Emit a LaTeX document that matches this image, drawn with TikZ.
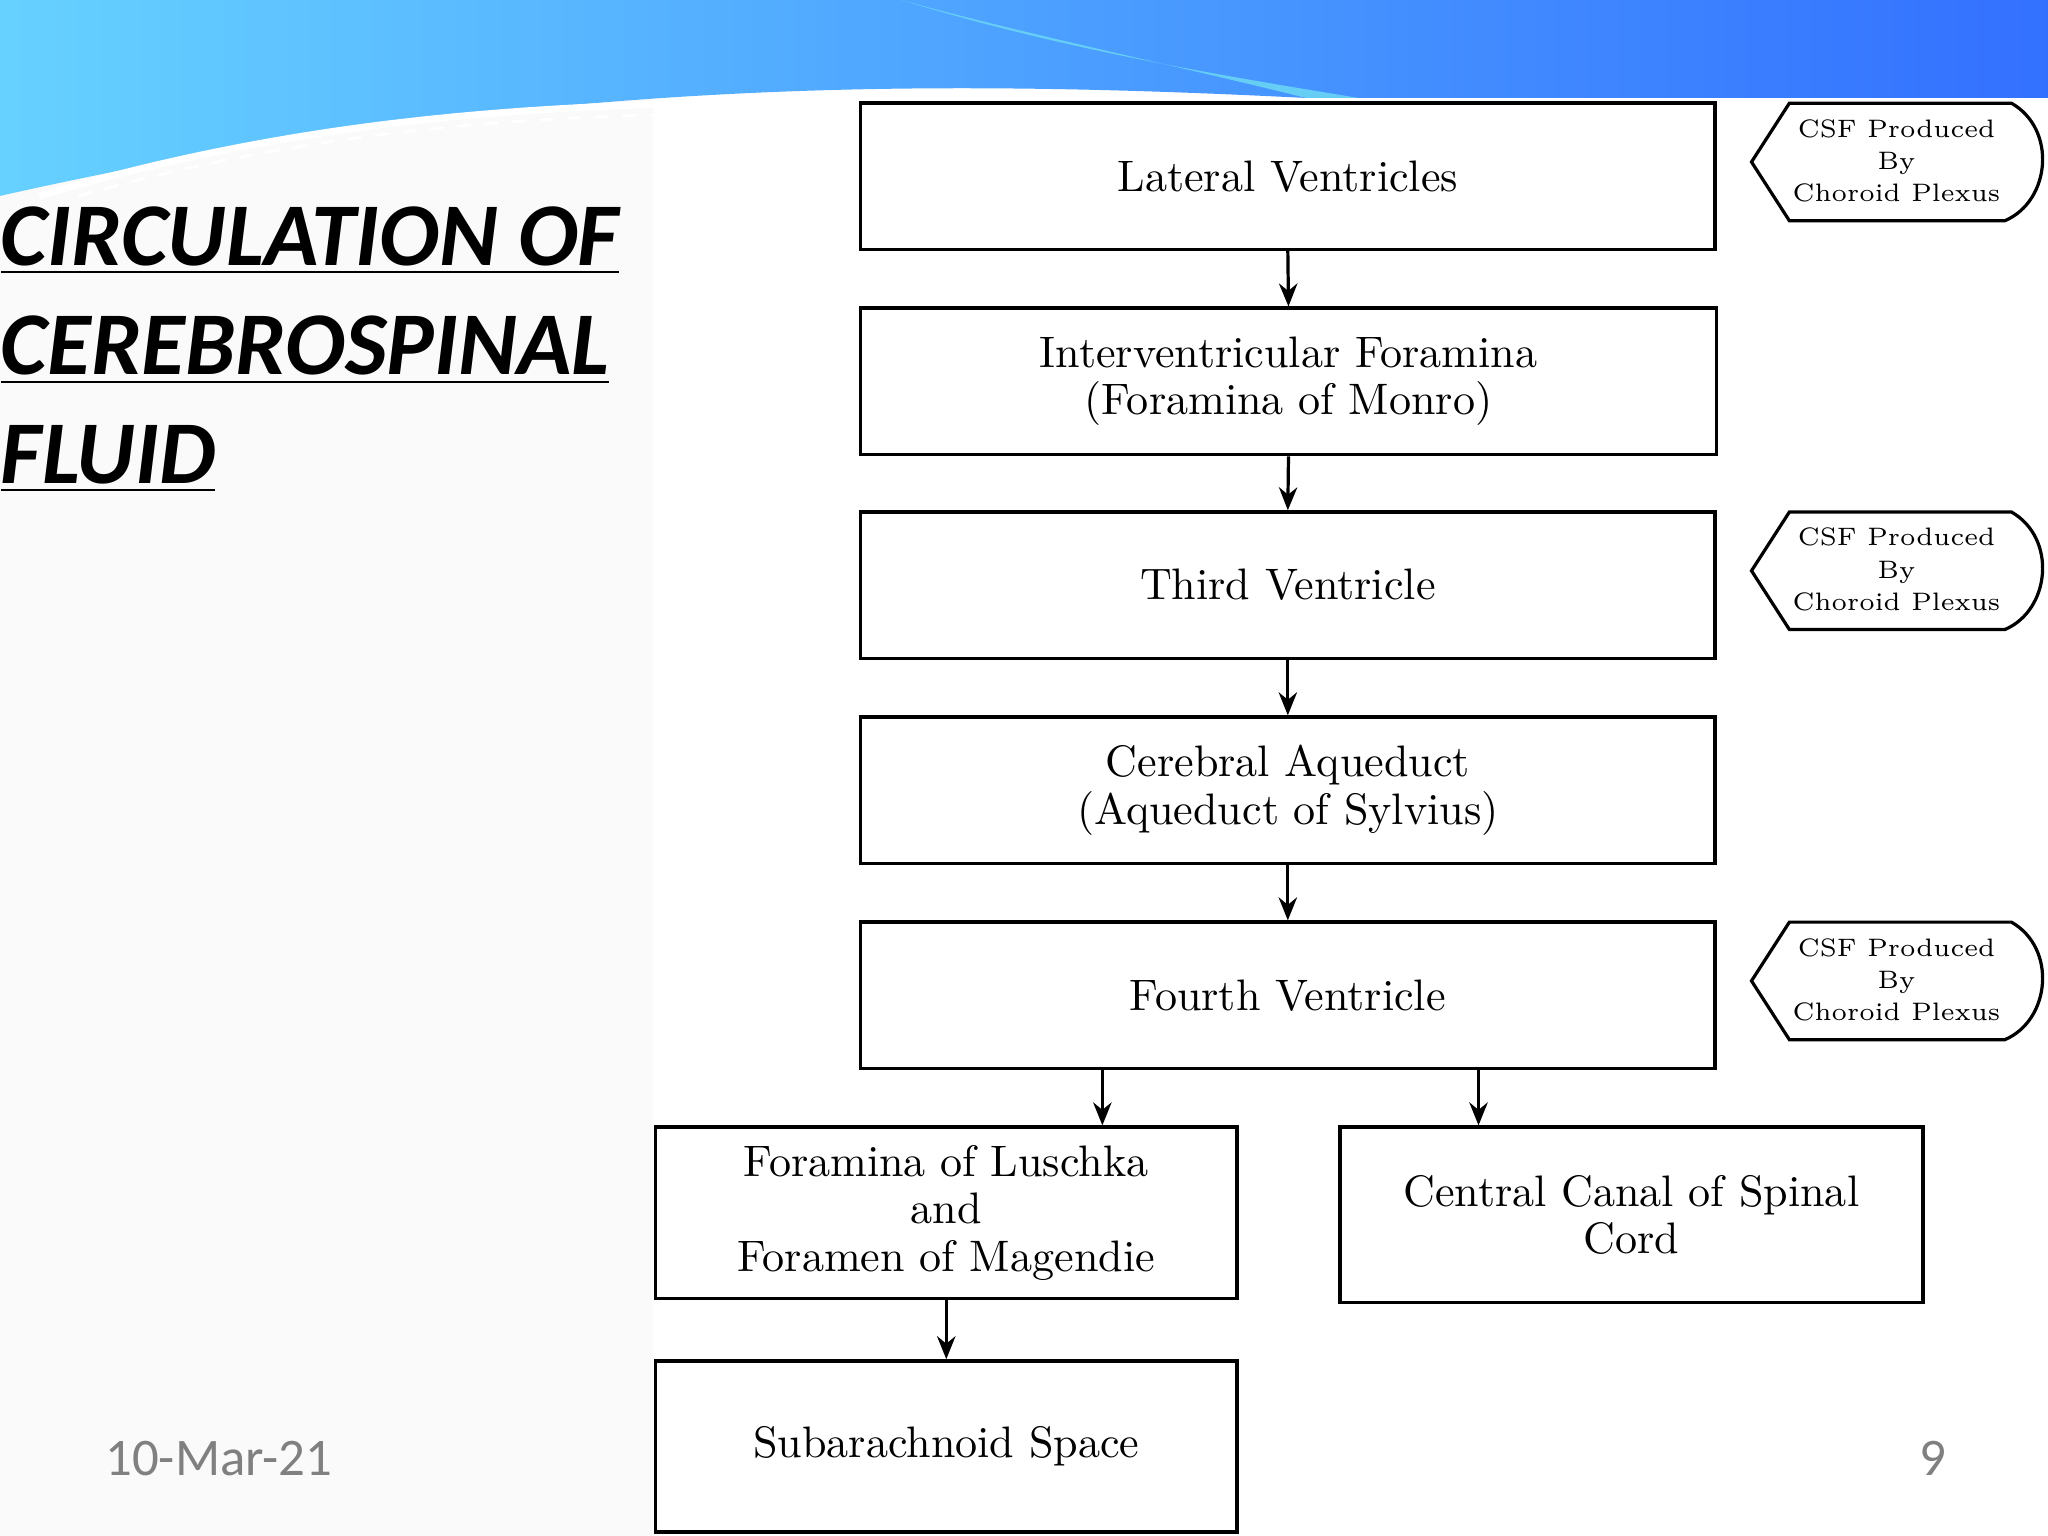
\documentclass[tikz,border=0pt]{standalone}
\usepackage{fontspec}
\newfontfamily\titlefont{Carlito}
\usetikzlibrary{arrows.meta}
\begin{document}
\begin{tikzpicture}[x=0.01cm,y=-0.01cm,
  box/.style={draw,line width=0.75pt,fill=white,inner sep=0pt,align=center,font=\fontsize{9.6}{10.3}\selectfont},
  csf/.style={align=center,font=\fontsize{5.5}{7}\selectfont},
  arr/.style={-{Stealth[length=5pt,width=4pt]},line width=0.7pt}]
\useasboundingbox (0,0) rectangle (1568,1176);
\fill[gray!4] (0,0) rectangle (500,1176);
\fill[white] (500,0) rectangle (1568,1176);
% top banner
\shade[left color=cyan!70!blue!60,right color=blue!70!cyan!80] (0,0) -- (1568,0) -- (1568,75) -- (1000,75) .. controls (700,60) and (400,60) .. (0,150) -- cycle;
\fill[cyan!60!white] (690,0) .. controls (820,40) and (950,60) .. (1040,75) -- (1000,75) .. controls (900,50) and (780,25) .. (690,0) -- cycle;
\draw[white,line width=1.5pt] (30,150) .. controls (200,100) and (350,85) .. (500,80);
\draw[white,line width=0.6pt,dashed] (60,150) .. controls (220,105) and (360,92) .. (500,88);
% boxes
\node[box,minimum width=6.54cm,minimum height=1.12cm] (lv) at (986,135) {Lateral Ventricles};
\node[box,minimum width=6.55cm,minimum height=1.12cm] (iv) at (986.5,292) {Interventricular Foramina\\(Foramina of Monro)};
\node[box,minimum width=6.54cm,minimum height=1.12cm] (tv) at (986,448) {Third Ventricle};
\node[box,minimum width=6.54cm,minimum height=1.12cm] (ca) at (986,605) {Cerebral Aqueduct\\(Aqueduct of Sylvius)};
\node[box,minimum width=6.54cm,minimum height=1.12cm] (fv) at (986,762) {Fourth Ventricle};
\node[box,minimum width=4.45cm,minimum height=1.31cm] (fl) at (724.5,928.5) {Foramina of Luschka\\and\\Foramen of Magendie};
\node[box,minimum width=4.46cm,minimum height=1.34cm] (cc) at (1249,930) {Central Canal of Spinal\\Cord};
\node[box,minimum width=4.45cm,minimum height=1.31cm] (sa) at (724.5,1107.5) {Subarachnoid Space};
% arrows
\draw[arr] (lv.south) -- (iv.north);
\draw[arr] (iv.south) -- (tv.north);
\draw[arr] (tv.south) -- (ca.north);
\draw[arr] (ca.south) -- (fv.north);
\coordinate (a1) at (844,818);
\coordinate (a2) at (1132,818);
\draw[arr] (a1) -- (a1 |- fl.north);
\draw[arr] (a2) -- (a2 |- cc.north);
\draw[arr] (fl.south) -- (sa.north);
% CSF shapes
\foreach \t/\n in {79/c1,392/c2,706/c3}{
  \draw[line width=0.7pt] (1341,\t+45) -- (1370,\t) -- (1540,\t) .. controls (1575,\t+20) and (1570,\t+75) .. (1535,\t+90) -- (1370,\t+90) -- cycle;
  \node[csf] (\n) at (1452,\t+44) {CSF Produced\\By\\Choroid Plexus};
}
% title
\node[anchor=base west,inner sep=0pt,font=\titlefont\fontsize{19.5}{24}\selectfont\bfseries\itshape] (t1) at (0,203) {\underline{CIRCULATION OF}};
\node[anchor=base west,inner sep=0pt,font=\titlefont\fontsize{19.5}{24}\selectfont\bfseries\itshape] (t2) at (0,287) {\underline{CEREBROSPINAL}};
\node[anchor=base west,inner sep=0pt,font=\titlefont\fontsize{19.5}{24}\selectfont\bfseries\itshape] (t3) at (0,370) {\underline{FLUID}};
\node[anchor=base west,inner sep=0pt,text=gray,font=\titlefont\fontsize{11.5}{14}\selectfont] (d) at (80,1130) {10-Mar-21};
\node[anchor=base,inner sep=0pt,text=gray,font=\titlefont\fontsize{11.5}{14}\selectfont] (p) at (1480,1130) {9};
\end{tikzpicture}
\end{document}
